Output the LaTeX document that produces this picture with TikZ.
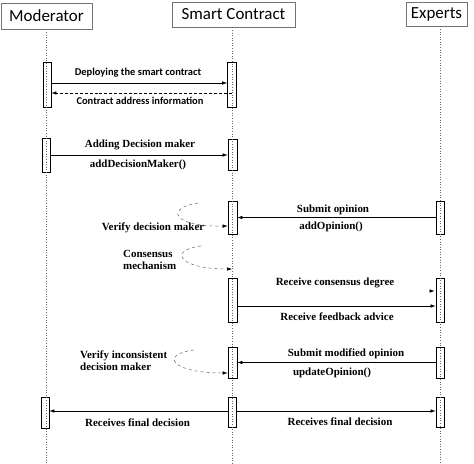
\documentclass[tikz,border=0pt]{standalone}
\usepackage{fontspec}
\setmainfont{Liberation Serif}
\newfontfamily\hdfont{Carlito}
\usetikzlibrary{arrows.meta}
\begin{document}
\begin{tikzpicture}[x=1bp,y=-1bp,
  head/.style={draw=black!55,line width=0.7bp,fill=white,inner sep=0pt,font=\hdfont\fontsize{17}{19}\selectfont},
  act/.style={draw=black,line width=0.7bp,fill=white,minimum width=8bp,inner sep=0pt},
  life/.style={draw=black!60,dotted,line width=0.6bp},
  msg/.style={draw=black,line width=0.6bp,-{Latex[length=5bp,width=3.5bp]}},
  ret/.style={draw=black,densely dashed,line width=0.6bp,-{Latex[length=5bp,width=3.5bp]}},
  self/.style={draw=black!60,dashed,line width=0.5bp,-{Latex[length=5bp,width=3.5bp,black]}},
  lbl/.style={font=\bfseries\fontsize{11}{12}\selectfont,inner sep=0pt},
  slbl/.style={font=\hdfont\bfseries\fontsize{10.5}{12}\selectfont,inner sep=0pt},
  mlbl/.style={font=\bfseries\fontsize{11}{12}\selectfont,inner sep=0pt,align=left,anchor=west}]
\useasboundingbox (0,0) rectangle (474,464);
\fill[white] (0,0) rectangle (474,464);
% headers
\node[head,minimum width=91bp,minimum height=26bp] (hm) at (46.5,16) {Moderator};
\node[head,minimum width=123bp,minimum height=25bp] (hs) at (233.5,14.5) {Smart Contract};
\node[head,minimum width=61bp,minimum height=24bp] (he) at (436.5,14) {Experts};
% activation boxes
\node[act,minimum height=45bp] (m1) at (47,84.5) {};
\node[act,minimum width=9bp,minimum height=45bp] (s1) at (232,84.5) {};
\node[act,minimum height=34bp] (m2) at (46,155) {};
\node[act,minimum width=9bp,minimum height=31bp] (s2) at (232.5,154.5) {};
\node[act,minimum width=9bp,minimum height=33bp] (s3) at (232.5,217.5) {};
\node[act,minimum height=33bp] (e3) at (440,217.5) {};
\node[act,minimum width=9bp,minimum height=44bp] (s4) at (232.5,300) {};
\node[act,minimum height=44bp] (e4) at (440,300) {};
\node[act,minimum width=9bp,minimum height=31bp] (s5) at (232.5,362.5) {};
\node[act,minimum height=31bp] (e5) at (440,362.5) {};
\node[act,minimum height=31bp] (m6) at (45,412.5) {};
\node[act,minimum height=30bp] (s6) at (232,412) {};
\node[act,minimum height=30bp] (e6) at (440,412) {};
% lifelines
\coordinate (lm) at (46,464);
\coordinate (ls) at (232,464);
\coordinate (le) at (440,464);
\draw[life] (hm.south -| lm) -- (lm);
\draw[life] (hs.south -| ls) -- (ls);
\draw[life] (he.south -| le) -- (le);
% messages
\draw[msg] ([yshift=1.5bp]m1.east) -- ([yshift=1.5bp]s1.west);
\node[slbl] (t1) at (138,73) {Deploying the smart contract};
\draw[ret] ([yshift=-8.5bp]s1.center) -- ([yshift=-8.5bp]m1.east);
\node[slbl] (t2) at (140,101) {Contract address information};
\draw[msg] (m2.east) -- (s2.west |- m2.east);
\node[lbl] (t3) at (140,145) {Adding Decision maker};
\node[lbl] (t4) at (138,165) {addDecisionMaker()};
\draw[msg] (e3.west) -- (s3.east);
\node[lbl] (t5) at (333,210) {Submit opinion};
\node[lbl] (t6) at (331,227) {addOpinion()};
\coordinate (c1) at (198,203);
\draw[self] (c1) .. controls (165,208) and (172,227) .. ([yshift=-8.5bp]s3.west);
\node[lbl] (t7) at (153,228) {Verify decision maker};
\coordinate (c2) at (201,246);
\coordinate (c2e) at (232,269);
\draw[self] (c2) .. controls (168,250) and (178,269) .. (c2e);
\node[mlbl] (t8) at (123,260) {Consensus\\mechanism};
\coordinate (a1) at (429.5,291);
\draw[msg] (a1) -- ([yshift=9bp,xshift=-1bp]e4.west);
\node[lbl] (t9) at (335,283) {Receive consensus degree};
\draw[msg] ([yshift=-6bp]s4.east) -- ([yshift=-6bp]e4.west);
\node[lbl] (t10) at (337,317) {Receive feedback advice};
\draw[msg] (e5.west) -- (s5.east);
\node[lbl] (t11) at (346,354) {Submit modified opinion};
\node[lbl] (t12) at (332,373) {updateOpinion()};
\coordinate (c3) at (194,350);
\draw[self] (c3) .. controls (160,354) and (170,373) .. ([yshift=-10.5bp]s5.west);
\node[mlbl] (t13) at (80,361) {Verify inconsistent\\decision maker};
\draw[msg] ([yshift=1bp]s6.west) -- ([yshift=1bp]s6.west -| m6.east);
\draw[msg] ([yshift=1bp]s6.east) -- ([yshift=1bp]e6.west);
\node[lbl] (t14) at (137.5,423) {Receives final decision};
\node[lbl] (t15) at (340,422) {Receives final decision};
\end{tikzpicture}
\end{document}
